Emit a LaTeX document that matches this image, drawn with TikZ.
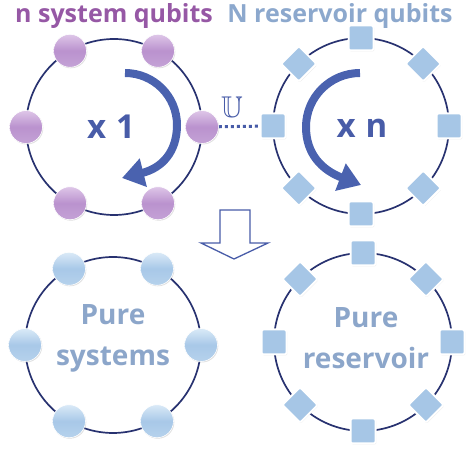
\documentclass[tikz,border=0pt]{standalone}
\usepackage{fontspec}
\setmainfont{Open Sans}
\usepackage{amssymb}
\usetikzlibrary{arrows.meta,shadows,calc}

\definecolor{ringnavy}{RGB}{40,50,112}
\definecolor{titlepurple}{RGB}{150,88,165}
\definecolor{titleblue}{RGB}{140,168,205}
\definecolor{purered}{RGB}{140,166,202}
\definecolor{xblue}{RGB}{72,92,168}
\definecolor{arrowblue}{RGB}{74,98,175}
\definecolor{sqfill}{RGB}{166,198,230}
\definecolor{pballhi}{RGB}{222,198,232}
\definecolor{pballmid}{RGB}{186,146,206}
\definecolor{pballlo}{RGB}{196,162,214}
\definecolor{bballhi}{RGB}{218,234,247}
\definecolor{bballmid}{RGB}{168,200,232}
\definecolor{bballlo}{RGB}{182,210,236}

\tikzset{
    ring/.style={draw=ringnavy, line width=1.7pt},
    qball/.style={circle, minimum size=33pt, inner sep=0pt,
        draw=white, line width=0.6pt,
        drop shadow={opacity=0.25, shadow xshift=0.8pt, shadow yshift=-1pt}},
    sysball/.style={qball, top color=pballhi, bottom color=pballlo, middle color=pballmid},
    pureball/.style={qball, top color=bballhi, bottom color=bballlo, middle color=bballmid},
    resq/.style={rectangle, minimum size=25pt, inner sep=0pt, fill=sqfill,
        draw=white, line width=2pt, rounded corners=1.5pt,
        drop shadow={opacity=0.2, shadow xshift=0.8pt, shadow yshift=-1pt}},
    heading/.style={font=\bfseries\fontsize{25}{28}\selectfont},
    bigtext/.style={font=\bfseries\fontsize{28}{41}\selectfont},
    turn/.style={draw=arrowblue, line width=8pt, -{Triangle[width=28pt,length=22pt]}},
}

\begin{document}
\begin{tikzpicture}[x=1pt,y=1pt]
    \useasboundingbox (0,0) rectangle (474,452);

    % titles
    \node[heading, text=titlepurple] (systitle) at (114,436) {n system qubits};
    \node[heading, text=titleblue] (restitle) at (340,436) {N reservoir qubits};

    % rings
    \draw[ring] (114,325) circle (88);
    \draw[ring] (361,326) circle (88);
    \draw[ring] (113,107) circle (88);
    \draw[ring] (363,110) circle (89);

    % system qubits before and after
    \foreach \a in {0,60,...,300}{
        \node[sysball] (s\a) at ($(114,325)+(\a:88)$) {};
        \node[pureball] (p\a) at ($(113,107)+(\a:88)$) {};
    }

    % reservoir qubits before and after
    \foreach \a in {0,45,...,315}{
        \node[resq, rotate=\a] (r\a) at ($(361,326)+(\a:88)$) {};
        \node[resq, rotate=\a] (q\a) at ($(363,110)+(\a:89)$) {};
    }

    % coupling
    \draw[draw=xblue, line width=3pt, dash pattern=on 3pt off 3pt] (s0) -- (r180);
    \node[text=xblue, font=\fontsize{30}{32}\selectfont] (coupling) at (232,345) {$\mathbb{U}$};

    % rounds
    \draw[turn] (125,379) arc[start angle=90, end angle=0, radius=52]
        .. controls (177,300) and (162,284) .. (122,274);
    \draw[turn] (360,379) arc[start angle=90, end angle=180, radius=54]
        .. controls (306,298) and (322,282) .. (361,267);
    \node[bigtext, text=xblue, font=\bfseries\fontsize{33}{36}\selectfont] (once) at (111,325) {x\hspace{0.3em}1};
    \node[bigtext, text=xblue, font=\bfseries\fontsize{33}{36}\selectfont] (ntimes) at (362,324) {x\hspace{0.3em}n};

    % hollow arrow down
    \draw[draw=xblue, fill=white, line width=1.3pt, line join=miter]
        (220,242) -- (250,242) -- (250,209) -- (268,209) -- (234,193)
        -- (201,209) -- (220,209) -- cycle;

    % results
    \node[bigtext, text=purered, align=center] (puresys) at (113,114)
        {Pure\\systems};
    \node[bigtext, text=purered, align=center] (pureres) at (366,114)
        {Pure\\reservoir};
\end{tikzpicture}
\end{document}
